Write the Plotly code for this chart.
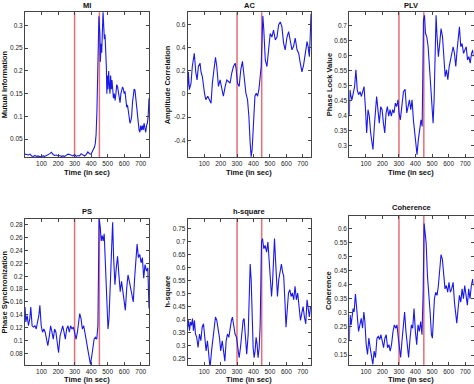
import plotly.graph_objects as go

W, H = 474, 384

# ---------------- data ----------------
mi_t = [0, 10, 20, 30, 40, 50, 60, 70, 80, 90, 100, 110, 120, 130, 140, 150, 160, 170, 180, 190,
        200, 210, 220, 230, 240, 250, 260, 270, 280, 290, 300, 310, 320, 330, 340, 350, 360, 370,
        380, 390, 400, 410, 420, 425, 430, 435, 438, 441, 444, 447, 450, 453, 456, 460, 464, 468,
        472, 476, 480, 484, 488, 492, 495, 498, 502, 506, 510, 514, 518, 522, 526, 530, 535, 540,
        545, 550, 555, 560, 565, 570, 575, 580, 585, 590, 595, 600, 605, 610, 615, 620, 625, 630,
        635, 640, 645, 650, 655, 660, 665, 670, 675, 680, 685, 690, 695, 700, 705, 710, 715, 720,
        725, 730, 735, 740, 745, 750]
mi_v = [0.017, 0.016, 0.015, 0.017, 0.013, 0.012, 0.014, 0.012, 0.013, 0.011, 0.012, 0.013, 0.012,
        0.014, 0.015, 0.018, 0.021, 0.016, 0.014, 0.015, 0.013, 0.014, 0.012, 0.013, 0.012, 0.015,
        0.017, 0.016, 0.014, 0.013, 0.016, 0.012, 0.014, 0.013, 0.018, 0.015, 0.013, 0.016, 0.022,
        0.018, 0.017, 0.025, 0.032, 0.040, 0.060, 0.110, 0.170, 0.240, 0.310, 0.320, 0.300, 0.280,
        0.220, 0.260, 0.240, 0.290, 0.330, 0.300, 0.270, 0.280, 0.250, 0.210, 0.150, 0.190, 0.160,
        0.200, 0.170, 0.150, 0.190, 0.160, 0.180, 0.160, 0.140, 0.150, 0.135, 0.150, 0.170, 0.165,
        0.150, 0.140, 0.130, 0.150, 0.160, 0.165, 0.160, 0.150, 0.155, 0.130, 0.120, 0.125, 0.110,
        0.100, 0.085, 0.090, 0.100, 0.130, 0.150, 0.160, 0.158, 0.140, 0.120, 0.100, 0.090, 0.070,
        0.065, 0.080, 0.070, 0.080, 0.070, 0.085, 0.075, 0.065, 0.080, 0.085, 0.100, 0.140]

ac_t = [0, 4, 10, 20, 28, 40, 49, 57, 65, 75, 81, 89, 102, 110, 122, 132, 142, 150, 163, 169, 177,
        187, 197, 207, 217, 228, 238, 248, 258, 268, 278, 289, 295, 303, 313, 323, 333, 343, 354,
        364, 372, 380, 386, 392, 400, 409, 417, 425, 433, 441, 447, 453, 457, 463, 472, 482, 492,
        502, 512, 522, 533, 543, 553, 563, 573, 583, 593, 604, 614, 624, 634, 644, 654, 665, 675,
        685, 695, 705, 715, 726, 732, 740, 746, 750]
ac_v = [0.064, 0.19, 0.036, 0.09, 0.236, 0.35, 0.19, 0.12, 0.236, 0.265, 0.19, 0.15, 0.007, -0.05,
        -0.02, -0.05, -0.08, 0.093, 0.265, 0.316, 0.236, 0.064, 0.12, 0.036, -0.02, 0.064, 0.12,
        0.107, 0.093, 0.18, 0.236, 0.265, 0.21, 0.093, 0.064, 0.21, 0.28, 0.15, 0.007, -0.05, -0.19,
        -0.42, -0.54, -0.48, -0.22, -0.02, 0.007, -0.02, 0.036, 0.15, 0.236, 0.49, 0.67, 0.55, 0.29,
        0.236, 0.38, 0.52, 0.49, 0.55, 0.465, 0.49, 0.594, 0.62, 0.58, 0.44, 0.38, 0.49, 0.537, 0.44,
        0.38, 0.41, 0.48, 0.38, 0.35, 0.265, 0.19, 0.25, 0.35, 0.45, 0.41, 0.32, 0.52, 0.69]

plv_t = [0, 4, 10, 16, 24, 32, 40, 48, 56, 65, 73, 81, 89, 97, 105, 113, 121, 129, 137, 143, 151,
         159, 165, 173, 181, 190, 198, 206, 214, 222, 230, 238, 246, 254, 262, 270, 278, 286, 294,
         300, 308, 317, 327, 337, 347, 355, 363, 371, 379, 387, 395, 403, 409, 417, 425, 433, 440,
         444, 448, 454, 460, 468, 476, 484, 492, 500, 506, 512, 518, 524, 530, 538, 546, 554, 563,
         571, 579, 587, 595, 603, 611, 619, 627, 635, 643, 651, 659, 665, 673, 681, 690, 698, 706,
         714, 722, 730, 738, 746, 750]
plv_v = [0.398, 0.486, 0.464, 0.453, 0.475, 0.497, 0.553, 0.486, 0.47, 0.48, 0.464, 0.48, 0.497,
         0.43, 0.342, 0.42, 0.398, 0.342, 0.298, 0.287, 0.364, 0.43, 0.464, 0.42, 0.375, 0.43, 0.42,
         0.375, 0.342, 0.409, 0.43, 0.398, 0.42, 0.398, 0.42, 0.409, 0.442, 0.43, 0.453, 0.409,
         0.386, 0.43, 0.48, 0.488, 0.409, 0.43, 0.453, 0.42, 0.453, 0.386, 0.342, 0.298, 0.27, 0.32,
         0.364, 0.386, 0.364, 0.564, 0.719, 0.735, 0.675, 0.663, 0.63, 0.564, 0.486, 0.409, 0.375,
         0.453, 0.586, 0.735, 0.663, 0.597, 0.641, 0.691, 0.663, 0.608, 0.53, 0.553, 0.52, 0.564,
         0.586, 0.597, 0.63, 0.608, 0.564, 0.619, 0.663, 0.697, 0.63, 0.641, 0.608, 0.619, 0.63,
         0.586, 0.597, 0.575, 0.608, 0.619, 0.597]

ps_t = [0, 5, 13, 21, 29, 35, 43, 51, 60, 68, 76, 84, 90, 98, 106, 114, 122, 130, 138, 147, 155,
        163, 171, 179, 187, 195, 203, 212, 220, 228, 236, 244, 252, 260, 268, 276, 284, 292, 300,
        309, 317, 325, 331, 339, 347, 355, 363, 371, 380, 388, 396, 404, 410, 418, 426, 434, 441,
        444, 448, 455, 461, 467, 473, 479, 485, 491, 498, 502, 508, 516, 524, 530, 536, 544, 552,
        560, 568, 576, 584, 593, 601, 607, 615, 623, 631, 639, 647, 655, 663, 671, 678, 686, 694,
        702, 710, 718, 726, 735, 743, 750]
ps_v = [0.152, 0.129, 0.139, 0.123, 0.134, 0.152, 0.123, 0.121, 0.123, 0.118, 0.129, 0.139, 0.155,
        0.123, 0.113, 0.118, 0.113, 0.102, 0.092, 0.107, 0.123, 0.113, 0.102, 0.118, 0.113, 0.097,
        0.081, 0.107, 0.118, 0.123, 0.113, 0.102, 0.118, 0.123, 0.113, 0.123, 0.118, 0.121, 0.113,
        0.102, 0.113, 0.129, 0.142, 0.134, 0.118, 0.123, 0.113, 0.100, 0.086, 0.070, 0.063, 0.076,
        0.092, 0.102, 0.105, 0.102, 0.123, 0.229, 0.290, 0.276, 0.255, 0.263, 0.255, 0.266, 0.229,
        0.181, 0.139, 0.118, 0.134, 0.192, 0.239, 0.284, 0.229, 0.187, 0.213, 0.231, 0.202, 0.176,
        0.192, 0.171, 0.155, 0.147, 0.181, 0.202, 0.192, 0.181, 0.176, 0.160, 0.197, 0.224, 0.250,
        0.229, 0.234, 0.221, 0.229, 0.197, 0.218, 0.208, 0.213, 0.150]

hs_t = [0, 5, 11, 17, 23, 29, 35, 41, 47, 55, 63, 72, 80, 88, 96, 104, 112, 120, 128, 136, 145,
        153, 161, 169, 177, 185, 193, 201, 210, 218, 226, 234, 242, 250, 258, 266, 272, 280, 288,
        297, 305, 313, 321, 329, 337, 343, 351, 359, 368, 374, 380, 386, 392, 398, 404, 410, 416,
        422, 428, 435, 441, 445, 449, 455, 463, 471, 480, 488, 496, 504, 510, 516, 522, 528, 534,
        540, 546, 554, 562, 570, 578, 584, 592, 598, 604, 613, 621, 629, 637, 645, 653, 661, 669,
        678, 686, 694, 702, 710, 718, 726, 734, 740, 747]
hs_v = [0.371, 0.397, 0.358, 0.391, 0.378, 0.404, 0.358, 0.397, 0.345, 0.332, 0.293, 0.345, 0.319,
        0.371, 0.384, 0.332, 0.28, 0.319, 0.267, 0.215, 0.28, 0.332, 0.384, 0.41, 0.397, 0.371,
        0.332, 0.28, 0.319, 0.28, 0.241, 0.319, 0.345, 0.332, 0.371, 0.397, 0.41, 0.371, 0.345,
        0.332, 0.293, 0.254, 0.293, 0.345, 0.397, 0.404, 0.332, 0.267, 0.345, 0.502, 0.613, 0.554,
        0.397, 0.293, 0.254, 0.28, 0.332, 0.306, 0.254, 0.293, 0.384, 0.567, 0.698, 0.711, 0.672,
        0.685, 0.659, 0.698, 0.619, 0.528, 0.489, 0.541, 0.659, 0.711, 0.632, 0.528, 0.489, 0.554,
        0.593, 0.613, 0.58, 0.567, 0.463, 0.371, 0.424, 0.502, 0.515, 0.489, 0.502, 0.476, 0.528,
        0.476, 0.502, 0.437, 0.397, 0.424, 0.45, 0.41, 0.384, 0.476, 0.424, 0.41, 0.45]

coh_t = [0, 5, 11, 17, 23, 29, 37, 43, 49, 56, 64, 72, 80, 88, 94, 102, 110, 118, 126, 134, 142,
         150, 158, 167, 175, 183, 191, 199, 207, 215, 223, 231, 239, 247, 255, 264, 272, 280, 288,
         296, 302, 310, 318, 326, 334, 342, 350, 358, 367, 375, 383, 391, 399, 407, 415, 423, 431,
         439, 446, 452, 458, 464, 472, 480, 488, 496, 502, 508, 514, 522, 530, 538, 546, 554, 562,
         570, 578, 586, 594, 602, 610, 618, 627, 635, 643, 649, 657, 665, 673, 681, 689, 697, 705,
         713, 721, 729, 737, 745, 750]
coh_v = [0.199, 0.292, 0.257, 0.28, 0.315, 0.303, 0.367, 0.327, 0.28, 0.234, 0.257, 0.28, 0.245,
         0.303, 0.269, 0.187, 0.152, 0.21, 0.176, 0.141, 0.117, 0.164, 0.141, 0.21, 0.216, 0.205,
         0.222, 0.199, 0.176, 0.21, 0.222, 0.176, 0.187, 0.164, 0.187, 0.234, 0.257, 0.245, 0.257,
         0.21, 0.176, 0.141, 0.199, 0.245, 0.303, 0.234, 0.176, 0.141, 0.21, 0.257, 0.245, 0.315,
         0.234, 0.187, 0.257, 0.234, 0.269, 0.222, 0.373, 0.617, 0.583, 0.548, 0.431, 0.373, 0.303,
         0.222, 0.21, 0.28, 0.35, 0.373, 0.362, 0.397, 0.455, 0.507, 0.49, 0.431, 0.385, 0.397,
         0.373, 0.408, 0.373, 0.385, 0.408, 0.338, 0.28, 0.263, 0.315, 0.362, 0.338, 0.385, 0.35,
         0.397, 0.362, 0.327, 0.385, 0.35, 0.397, 0.42, 0.397]

event_times = [300, 450]
x_ticks = [100, 200, 300, 400, 500, 600, 700]
x_range = [0, 750]
x_label = "Time (in sec)"

titles = ["MI", "AC", "PLV", "PS", "h-square", "Coherence"]
y_labels = ["Mutual Information", "Amplitude Correlation", "Phase Lock Value",
            "Phase Synchronization", "h-square", "Coherence"]
y_ranges = [[0.010, 0.329], [-0.546, 0.703], [0.261, 0.745],
            [0.062, 0.289], [0.226, 0.786], [0.1145, 0.644]]
y_ticks = [[0.05, 0.1, 0.15, 0.2, 0.25, 0.3],
           [-0.4, -0.2, 0, 0.2, 0.4, 0.6],
           [0.3, 0.35, 0.4, 0.45, 0.5, 0.55, 0.6, 0.65, 0.7],
           [0.08, 0.1, 0.12, 0.14, 0.16, 0.18, 0.2, 0.22, 0.24, 0.26, 0.28],
           [0.25, 0.3, 0.35, 0.4, 0.45, 0.5, 0.55, 0.6, 0.65, 0.7, 0.75],
           [0.15, 0.2, 0.25, 0.3, 0.35, 0.4, 0.45, 0.5, 0.55, 0.6]]
series_t = [mi_t, ac_t, plv_t, ps_t, hs_t, coh_t]
series_v = [mi_v, ac_v, plv_v, ps_v, hs_v, coh_v]

# ---------------- layout (pixel boxes of each plot area) ----------------
boxes = [(25, 12.3, 149, 157.3), (187.7, 12.3, 311, 157.3), (349.3, 12.3, 473.5, 157.3),
         (25, 219, 149, 365), (187.7, 219, 311, 365), (349.3, 216, 473.5, 365)]
title_y = [5, 5, 5, 211, 211, 207.5]
ylab_x = [4.5, 167.5, 329.5, 3.5, 166.5, 328.5]
xlab_y = [172.5, 172.5, 172.5, 379, 379, 379]

FONT = "Arial, Liberation Sans, sans-serif"
BLUE = "rgb(25,25,235)"
RED = "rgb(230,110,120)"
AXC = "#444"

def fmt(v):
    return "%g" % v

fig = go.Figure()
shapes = []
annotations = []
for i in range(6):
    n = "" if i == 0 else str(i + 1)
    x0, y0, x1, y1 = boxes[i]
    fig.add_trace(go.Scatter(x=series_t[i], y=series_v[i], mode="lines",
                             line=dict(color=BLUE, width=1.1), xaxis="x" + n, yaxis="y" + n,
                             showlegend=False, hoverinfo="skip"))
    common = dict(showgrid=False, zeroline=False, showline=True, linecolor=AXC, linewidth=1,
                  mirror="ticks", ticks="inside", ticklen=3, tickcolor=AXC,
                  tickfont=dict(family=FONT, size=6.5, color="#222"))
    fig.layout["xaxis" + n] = dict(domain=[x0 / W, x1 / W], range=x_range, anchor="y" + n,
                                   tickvals=x_ticks, ticktext=[str(t) for t in x_ticks],
                                   **common)
    fig.layout["yaxis" + n] = dict(domain=[1 - y1 / H, 1 - y0 / H], range=y_ranges[i],
                                   anchor="x" + n, tickvals=y_ticks[i],
                                   ticktext=[fmt(v) for v in y_ticks[i]], **common)
    for t in event_times:
        shapes.append(dict(type="line", xref="x" + n, yref="y" + n + " domain", x0=t, x1=t,
                           y0=0, y1=1, line=dict(color=RED, width=1.5), layer="below"))
    cx = (x0 + x1) / 2 / W
    annotations.append(dict(text="<b>%s</b>" % titles[i], xref="paper", yref="paper", x=cx,
                            y=1 - title_y[i] / H, xanchor="center", yanchor="middle",
                            showarrow=False, font=dict(family=FONT, size=7.5, color="#111")))
    annotations.append(dict(text="<b>%s</b>" % x_label, xref="paper", yref="paper", x=cx,
                            y=1 - xlab_y[i] / H, xanchor="center", yanchor="middle",
                            showarrow=False, font=dict(family=FONT, size=7.5, color="#111")))
    annotations.append(dict(text="<b>%s</b>" % y_labels[i], xref="paper", yref="paper",
                            x=ylab_x[i] / W, y=1 - (y0 + y1) / 2 / H, xanchor="center",
                            yanchor="middle", textangle=-90, showarrow=False,
                            font=dict(family=FONT, size=7.5, color="#111")))

fig.update_layout(width=W, height=H, margin=dict(l=0, r=0, t=0, b=0),
                  paper_bgcolor="white", plot_bgcolor="white",
                  shapes=shapes, annotations=annotations)
fig.write_html("out.html", config={"displayModeBar": False, "staticPlot": True},
               post_script="document.body.style.margin='0';document.body.style.overflow='hidden';")
